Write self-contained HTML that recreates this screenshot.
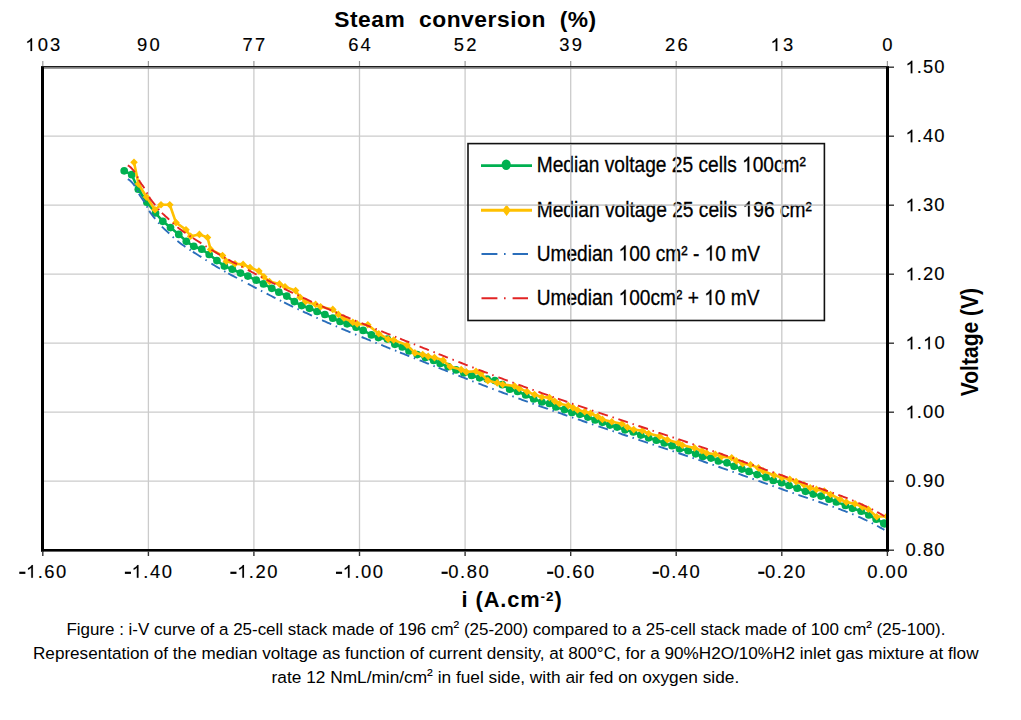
<!DOCTYPE html>
<html><head><meta charset="utf-8"><style>
html,body{margin:0;padding:0;background:#fff;}
svg{display:block;}
text{font-family:"Liberation Sans",sans-serif;fill:#000;}
.t{stroke:#000;stroke-width:0.15;}
.t2{stroke:#000;stroke-width:0.3;}
.h1{fill-opacity:0;stroke-opacity:0;}
.o1t{stroke:#000;stroke-width:16.7;}
.o1l{stroke:#000;stroke-width:27.9;}
.g{stroke:#cbcbcb;stroke-width:1.3;}
</style></head><body>
<svg width="1021" height="720" viewBox="0 0 1021 720">
<rect width="1021" height="720" fill="#fff"/>
<line x1="148.4" y1="68" x2="148.4" y2="549" class="g"/>
<line x1="253.9" y1="68" x2="253.9" y2="549" class="g"/>
<line x1="359.5" y1="68" x2="359.5" y2="549" class="g"/>
<line x1="465.1" y1="68" x2="465.1" y2="549" class="g"/>
<line x1="570.7" y1="68" x2="570.7" y2="549" class="g"/>
<line x1="676.2" y1="68" x2="676.2" y2="549" class="g"/>
<line x1="781.8" y1="68" x2="781.8" y2="549" class="g"/>
<line x1="44" y1="136.2" x2="886" y2="136.2" class="g"/>
<line x1="44" y1="205.2" x2="886" y2="205.2" class="g"/>
<line x1="44" y1="274.2" x2="886" y2="274.2" class="g"/>
<line x1="44" y1="343.2" x2="886" y2="343.2" class="g"/>
<line x1="44" y1="412.2" x2="886" y2="412.2" class="g"/>
<line x1="44" y1="481.2" x2="886" y2="481.2" class="g"/>
<rect x="468" y="143.6" width="356.4" height="176.9" fill="none" stroke="#111" stroke-width="1.6"/>
<clipPath id="pc"><rect x="44" y="68" width="842.5" height="481"/></clipPath>
<g clip-path="url(#pc)">
<polyline points="124.20,170.80 131.70,174.70 138.30,189.20 146.90,202.23 155.50,213.00 162.80,221.30 170.50,227.60 178.80,234.40 186.30,241.30 193.80,246.30 201.75,249.25 209.20,254.50 216.85,260.55 224.35,266.15 232.30,269.25 240.50,273.05 247.95,276.05 256.20,280.23 263.53,283.87 271.75,288.30 278.95,292.20 286.75,296.15 294.35,301.65 301.70,305.60 309.50,308.30 317.10,311.55 324.95,314.50 332.75,318.20 340.15,321.45 347.10,323.80 356.10,327.20 363.20,330.40 371.40,334.90 378.40,337.60 387.40,339.10 394.90,344.30 402.30,347.00 409.00,351.00 417.20,354.57 425.40,357.60 433.70,360.40 440.20,363.40 448.08,366.71 455.95,369.87 463.82,372.81 471.70,375.50 479.60,377.80 487.25,379.11 494.90,380.60 502.30,384.72 509.70,389.20 517.60,391.50 525.67,394.97 533.73,398.97 541.80,402.00 549.40,403.50 555.90,407.00 564.50,409.65 571.85,412.35 579.80,414.30 587.85,417.05 595.15,420.00 602.45,422.30 609.90,425.15 617.15,427.15 625.05,429.80 633.30,432.00 640.80,435.10 648.60,437.80 656.40,440.20 664.30,442.90 672.10,445.70 679.60,448.75 688.20,450.70 695.70,453.80 702.70,456.60 711.00,458.10 718.40,460.90 727.00,462.80 734.10,466.30 741.90,469.10 749.00,471.40 757.20,474.60 765.90,477.20 773.30,480.40 781.60,482.70 789.00,485.50 797.20,488.20 805.50,491.30 813.30,494.10 821.10,496.10 829.00,499.20 836.40,501.90 845.40,505.40 852.50,508.30 861.25,511.25 868.75,515.00 876.25,519.20 883.75,523.30" fill="none" stroke="#00b050" stroke-width="2.6" stroke-linejoin="round"/>
</g>
<g fill="#00b050"><circle cx="124.2" cy="170.8" r="3.85"/><circle cx="131.7" cy="174.7" r="3.85"/><circle cx="138.3" cy="189.2" r="3.85"/><circle cx="146.9" cy="202.2" r="3.85"/><circle cx="155.5" cy="213.0" r="3.85"/><circle cx="162.8" cy="221.3" r="3.85"/><circle cx="170.5" cy="227.6" r="3.85"/><circle cx="178.8" cy="234.4" r="3.85"/><circle cx="186.3" cy="241.3" r="3.85"/><circle cx="193.8" cy="246.3" r="3.85"/><circle cx="201.8" cy="249.2" r="3.85"/><circle cx="209.2" cy="254.5" r="3.85"/><circle cx="216.9" cy="260.6" r="3.85"/><circle cx="224.4" cy="266.1" r="3.85"/><circle cx="232.3" cy="269.2" r="3.85"/><circle cx="240.5" cy="273.1" r="3.85"/><circle cx="247.9" cy="276.1" r="3.85"/><circle cx="256.2" cy="280.2" r="3.85"/><circle cx="263.5" cy="283.9" r="3.85"/><circle cx="271.8" cy="288.3" r="3.85"/><circle cx="278.9" cy="292.2" r="3.85"/><circle cx="286.8" cy="296.1" r="3.85"/><circle cx="294.4" cy="301.6" r="3.85"/><circle cx="301.7" cy="305.6" r="3.85"/><circle cx="309.5" cy="308.3" r="3.85"/><circle cx="317.1" cy="311.5" r="3.85"/><circle cx="324.9" cy="314.5" r="3.85"/><circle cx="332.8" cy="318.2" r="3.85"/><circle cx="340.1" cy="321.4" r="3.85"/><circle cx="347.1" cy="323.8" r="3.85"/><circle cx="356.1" cy="327.2" r="3.85"/><circle cx="363.2" cy="330.4" r="3.85"/><circle cx="371.4" cy="334.9" r="3.85"/><circle cx="378.4" cy="337.6" r="3.85"/><circle cx="387.4" cy="339.1" r="3.85"/><circle cx="394.9" cy="344.3" r="3.85"/><circle cx="402.3" cy="347.0" r="3.85"/><circle cx="409.0" cy="351.0" r="3.85"/><circle cx="417.2" cy="354.6" r="3.85"/><circle cx="425.4" cy="357.6" r="3.85"/><circle cx="433.7" cy="360.4" r="3.85"/><circle cx="440.2" cy="363.4" r="3.85"/><circle cx="448.1" cy="366.7" r="3.85"/><circle cx="456.0" cy="369.9" r="3.85"/><circle cx="463.8" cy="372.8" r="3.85"/><circle cx="471.7" cy="375.5" r="3.85"/><circle cx="479.6" cy="377.8" r="3.85"/><circle cx="487.2" cy="379.1" r="3.85"/><circle cx="494.9" cy="380.6" r="3.85"/><circle cx="502.3" cy="384.7" r="3.85"/><circle cx="509.7" cy="389.2" r="3.85"/><circle cx="517.6" cy="391.5" r="3.85"/><circle cx="525.7" cy="395.0" r="3.85"/><circle cx="533.7" cy="399.0" r="3.85"/><circle cx="541.8" cy="402.0" r="3.85"/><circle cx="549.4" cy="403.5" r="3.85"/><circle cx="555.9" cy="407.0" r="3.85"/><circle cx="564.5" cy="409.6" r="3.85"/><circle cx="571.9" cy="412.4" r="3.85"/><circle cx="579.8" cy="414.3" r="3.85"/><circle cx="587.9" cy="417.1" r="3.85"/><circle cx="595.1" cy="420.0" r="3.85"/><circle cx="602.5" cy="422.3" r="3.85"/><circle cx="609.9" cy="425.1" r="3.85"/><circle cx="617.1" cy="427.1" r="3.85"/><circle cx="625.0" cy="429.8" r="3.85"/><circle cx="633.3" cy="432.0" r="3.85"/><circle cx="640.8" cy="435.1" r="3.85"/><circle cx="648.6" cy="437.8" r="3.85"/><circle cx="656.4" cy="440.2" r="3.85"/><circle cx="664.3" cy="442.9" r="3.85"/><circle cx="672.1" cy="445.7" r="3.85"/><circle cx="679.6" cy="448.8" r="3.85"/><circle cx="688.2" cy="450.7" r="3.85"/><circle cx="695.7" cy="453.8" r="3.85"/><circle cx="702.7" cy="456.6" r="3.85"/><circle cx="711.0" cy="458.1" r="3.85"/><circle cx="718.4" cy="460.9" r="3.85"/><circle cx="727.0" cy="462.8" r="3.85"/><circle cx="734.1" cy="466.3" r="3.85"/><circle cx="741.9" cy="469.1" r="3.85"/><circle cx="749.0" cy="471.4" r="3.85"/><circle cx="757.2" cy="474.6" r="3.85"/><circle cx="765.9" cy="477.2" r="3.85"/><circle cx="773.3" cy="480.4" r="3.85"/><circle cx="781.6" cy="482.7" r="3.85"/><circle cx="789.0" cy="485.5" r="3.85"/><circle cx="797.2" cy="488.2" r="3.85"/><circle cx="805.5" cy="491.3" r="3.85"/><circle cx="813.3" cy="494.1" r="3.85"/><circle cx="821.1" cy="496.1" r="3.85"/><circle cx="829.0" cy="499.2" r="3.85"/><circle cx="836.4" cy="501.9" r="3.85"/><circle cx="845.4" cy="505.4" r="3.85"/><circle cx="852.5" cy="508.3" r="3.85"/><circle cx="861.2" cy="511.2" r="3.85"/><circle cx="868.8" cy="515.0" r="3.85"/><circle cx="876.2" cy="519.2" r="3.85"/><circle cx="883.8" cy="523.3" r="3.85"/><circle cx="884.6" cy="523.6" r="4.1"/></g>
<g clip-path="url(#pc)">
<polyline points="134.00,162.30 138.50,184.00 146.50,197.00 155.00,209.80 161.00,204.80 169.80,204.80 176.00,222.60 186.00,229.80 190.60,236.30 199.40,234.40 207.50,237.50 210.60,249.40 222.50,255.60 226.30,261.30 235.00,263.80 243.10,264.40 250.00,267.50 258.90,271.10 263.90,276.70 269.40,281.50 279.40,283.90 285.00,286.70 295.60,290.60 300.00,297.20 305.60,301.50 315.60,304.40 320.60,306.70 332.80,309.40 338.30,314.40 343.90,318.00 352.80,322.20 357.20,323.90 367.80,324.70 378.80,333.70 388.20,339.20 393.70,340.00 407.00,345.10 414.90,352.90 422.70,354.50 428.20,356.40 434.50,357.60 443.10,360.20 450.20,366.80 461.20,369.60 466.30,371.90 476.00,371.20 480.80,373.50 487.80,380.60 497.20,382.90 502.70,384.50 514.50,386.00 519.20,388.40 527.00,391.60 534.50,394.60 541.80,397.00 549.40,397.60 554.70,401.20 559.40,403.80 568.20,405.60 572.90,407.60 577.60,410.00 584.70,411.80 590.60,413.20 597.60,416.50 602.40,419.40 611.80,421.80 621.90,423.70 627.40,427.20 633.70,429.60 642.30,430.80 648.60,433.50 659.60,436.30 667.40,439.80 678.40,442.90 682.40,445.20 694.50,447.90 701.90,450.70 706.60,453.00 715.30,454.20 721.50,456.60 731.70,457.70 736.40,460.90 742.70,463.60 750.50,464.80 758.40,467.90 763.10,471.00 774.10,475.30 781.90,477.60 789.80,479.20 796.10,481.60 803.90,484.70 810.20,487.80 816.40,489.40 824.30,491.00 830.50,494.50 840.00,499.20 846.25,502.10 855.00,503.75 862.50,507.00 868.30,509.20 876.70,516.70 886.70,516.30" fill="none" stroke="#ffc000" stroke-width="2.6" stroke-linejoin="round"/>
<path fill="#ffc000" d="M134.0 158.5L137.8 162.3L134.0 166.1L130.2 162.3ZM138.5 180.2L142.3 184.0L138.5 187.8L134.7 184.0ZM146.5 193.2L150.3 197.0L146.5 200.8L142.7 197.0ZM155.0 206.0L158.8 209.8L155.0 213.6L151.2 209.8ZM161.0 201.0L164.8 204.8L161.0 208.6L157.2 204.8ZM169.8 201.0L173.6 204.8L169.8 208.6L166.0 204.8ZM176.0 218.8L179.8 222.6L176.0 226.4L172.2 222.6ZM186.0 226.0L189.8 229.8L186.0 233.6L182.2 229.8ZM190.6 232.5L194.4 236.3L190.6 240.1L186.8 236.3ZM199.4 230.6L203.2 234.4L199.4 238.2L195.6 234.4ZM207.5 233.7L211.3 237.5L207.5 241.3L203.7 237.5ZM210.6 245.6L214.4 249.4L210.6 253.2L206.8 249.4ZM222.5 251.8L226.3 255.6L222.5 259.4L218.7 255.6ZM226.3 257.5L230.1 261.3L226.3 265.1L222.5 261.3ZM235.0 260.0L238.8 263.8L235.0 267.6L231.2 263.8ZM243.1 260.6L246.9 264.4L243.1 268.2L239.3 264.4ZM250.0 263.7L253.8 267.5L250.0 271.3L246.2 267.5ZM258.9 267.3L262.7 271.1L258.9 274.9L255.1 271.1ZM263.9 272.9L267.7 276.7L263.9 280.5L260.1 276.7ZM269.4 277.7L273.2 281.5L269.4 285.3L265.6 281.5ZM279.4 280.1L283.2 283.9L279.4 287.7L275.6 283.9ZM285.0 282.9L288.8 286.7L285.0 290.5L281.2 286.7ZM295.6 286.8L299.4 290.6L295.6 294.4L291.8 290.6ZM300.0 293.4L303.8 297.2L300.0 301.0L296.2 297.2ZM305.6 297.7L309.4 301.5L305.6 305.3L301.8 301.5ZM315.6 300.6L319.4 304.4L315.6 308.2L311.8 304.4ZM320.6 302.9L324.4 306.7L320.6 310.5L316.8 306.7ZM332.8 305.6L336.6 309.4L332.8 313.2L329.0 309.4ZM338.3 310.6L342.1 314.4L338.3 318.2L334.5 314.4ZM343.9 314.2L347.7 318.0L343.9 321.8L340.1 318.0ZM352.8 318.4L356.6 322.2L352.8 326.0L349.0 322.2ZM357.2 320.1L361.0 323.9L357.2 327.7L353.4 323.9ZM367.8 320.9L371.6 324.7L367.8 328.5L364.0 324.7ZM378.8 329.9L382.6 333.7L378.8 337.5L375.0 333.7ZM388.2 335.4L392.0 339.2L388.2 343.0L384.4 339.2ZM393.7 336.2L397.5 340.0L393.7 343.8L389.9 340.0ZM407.0 341.3L410.8 345.1L407.0 348.9L403.2 345.1ZM414.9 349.1L418.7 352.9L414.9 356.7L411.1 352.9ZM422.7 350.7L426.5 354.5L422.7 358.3L418.9 354.5ZM428.2 352.6L432.0 356.4L428.2 360.2L424.4 356.4ZM434.5 353.8L438.3 357.6L434.5 361.4L430.7 357.6ZM443.1 356.4L446.9 360.2L443.1 364.0L439.3 360.2ZM450.2 363.0L454.0 366.8L450.2 370.6L446.4 366.8ZM461.2 365.8L465.0 369.6L461.2 373.4L457.4 369.6ZM466.3 368.1L470.1 371.9L466.3 375.7L462.5 371.9ZM476.0 367.4L479.8 371.2L476.0 375.0L472.2 371.2ZM480.8 369.7L484.6 373.5L480.8 377.3L477.0 373.5ZM487.8 376.8L491.6 380.6L487.8 384.4L484.0 380.6ZM497.2 379.1L501.0 382.9L497.2 386.7L493.4 382.9ZM502.7 380.7L506.5 384.5L502.7 388.3L498.9 384.5ZM514.5 382.2L518.3 386.0L514.5 389.8L510.7 386.0ZM519.2 384.6L523.0 388.4L519.2 392.2L515.4 388.4ZM527.0 387.8L530.8 391.6L527.0 395.4L523.2 391.6ZM534.5 390.8L538.3 394.6L534.5 398.4L530.7 394.6ZM541.8 393.2L545.6 397.0L541.8 400.8L538.0 397.0ZM549.4 393.8L553.2 397.6L549.4 401.4L545.6 397.6ZM554.7 397.4L558.5 401.2L554.7 405.0L550.9 401.2ZM559.4 400.0L563.2 403.8L559.4 407.6L555.6 403.8ZM568.2 401.8L572.0 405.6L568.2 409.4L564.4 405.6ZM572.9 403.8L576.7 407.6L572.9 411.4L569.1 407.6ZM577.6 406.2L581.4 410.0L577.6 413.8L573.8 410.0ZM584.7 408.0L588.5 411.8L584.7 415.6L580.9 411.8ZM590.6 409.4L594.4 413.2L590.6 417.0L586.8 413.2ZM597.6 412.7L601.4 416.5L597.6 420.3L593.8 416.5ZM602.4 415.6L606.2 419.4L602.4 423.2L598.6 419.4ZM611.8 418.0L615.6 421.8L611.8 425.6L608.0 421.8ZM621.9 419.9L625.7 423.7L621.9 427.5L618.1 423.7ZM627.4 423.4L631.2 427.2L627.4 431.0L623.6 427.2ZM633.7 425.8L637.5 429.6L633.7 433.4L629.9 429.6ZM642.3 427.0L646.1 430.8L642.3 434.6L638.5 430.8ZM648.6 429.7L652.4 433.5L648.6 437.3L644.8 433.5ZM659.6 432.5L663.4 436.3L659.6 440.1L655.8 436.3ZM667.4 436.0L671.2 439.8L667.4 443.6L663.6 439.8ZM678.4 439.1L682.2 442.9L678.4 446.7L674.6 442.9ZM682.4 441.4L686.2 445.2L682.4 449.0L678.6 445.2ZM694.5 444.1L698.3 447.9L694.5 451.7L690.7 447.9ZM701.9 446.9L705.7 450.7L701.9 454.5L698.1 450.7ZM706.6 449.2L710.4 453.0L706.6 456.8L702.8 453.0ZM715.3 450.4L719.1 454.2L715.3 458.0L711.5 454.2ZM721.5 452.8L725.3 456.6L721.5 460.4L717.7 456.6ZM731.7 453.9L735.5 457.7L731.7 461.5L727.9 457.7ZM736.4 457.1L740.2 460.9L736.4 464.7L732.6 460.9ZM742.7 459.8L746.5 463.6L742.7 467.4L738.9 463.6ZM750.5 461.0L754.3 464.8L750.5 468.6L746.7 464.8ZM758.4 464.1L762.2 467.9L758.4 471.7L754.6 467.9ZM763.1 467.2L766.9 471.0L763.1 474.8L759.3 471.0ZM774.1 471.5L777.9 475.3L774.1 479.1L770.3 475.3ZM781.9 473.8L785.7 477.6L781.9 481.4L778.1 477.6ZM789.8 475.4L793.6 479.2L789.8 483.0L786.0 479.2ZM796.1 477.8L799.9 481.6L796.1 485.4L792.3 481.6ZM803.9 480.9L807.7 484.7L803.9 488.5L800.1 484.7ZM810.2 484.0L814.0 487.8L810.2 491.6L806.4 487.8ZM816.4 485.6L820.2 489.4L816.4 493.2L812.6 489.4ZM824.3 487.2L828.1 491.0L824.3 494.8L820.5 491.0ZM830.5 490.7L834.3 494.5L830.5 498.3L826.7 494.5ZM840.0 495.4L843.8 499.2L840.0 503.0L836.2 499.2ZM846.2 498.3L850.0 502.1L846.2 505.9L842.5 502.1ZM855.0 499.9L858.8 503.8L855.0 507.6L851.2 503.8ZM862.5 503.2L866.3 507.0L862.5 510.8L858.7 507.0ZM868.3 505.4L872.1 509.2L868.3 513.0L864.5 509.2ZM876.7 512.9L880.5 516.7L876.7 520.5L872.9 516.7ZM886.7 512.5L890.5 516.3L886.7 520.1L882.9 516.3Z"/>
<path d="M127.80 179.15L129.32 180.02L130.83 181.31L132.35 182.92L133.86 184.74L134.84 186.11M137.23 190.32L137.87 191.68M138.90 193.70L139.93 195.54L141.45 197.78L142.96 199.90L144.37 202.06M146.75 206.28L147.46 207.60M149.20 210.88L150.54 212.93L152.06 214.96L153.58 216.85L155.09 218.70L155.22 218.85M158.29 222.60L159.27 223.74M161.90 226.61L162.67 227.40L164.19 228.85L165.71 230.24L167.22 231.62L168.74 233.02L169.19 233.45M172.69 236.81L173.29 237.37L173.79 237.83M177.40 240.97L177.84 241.33L179.35 242.51L180.87 243.65L182.38 244.75L183.90 245.83L185.42 246.88L185.45 246.90M189.49 249.59L189.97 249.89L190.75 250.40M192.90 251.80L193.00 251.86L194.51 252.83L196.03 253.79L197.55 254.75L199.06 255.71L200.58 256.67L201.34 257.16M205.43 259.76L206.64 260.53L206.70 260.57M211.40 263.53L212.71 264.35L214.23 265.28L215.74 266.21L217.26 267.13L218.77 268.03L219.95 268.72M224.16 271.12L224.84 271.50L225.48 271.85M228.20 273.34L229.39 273.99L230.90 274.80L232.42 275.61L233.94 276.42L235.45 277.22L236.97 278.02L237.02 278.05M241.31 280.32L241.52 280.43L242.64 281.02M247.80 283.75L249.10 284.43L250.61 285.23L252.13 286.03L253.65 286.83L255.16 287.62L256.65 288.40M260.95 290.65L261.23 290.79L262.28 291.34M266.60 293.58L267.29 293.93L268.81 294.72L270.33 295.49L271.84 296.27L273.36 297.04L274.87 297.81L275.50 298.13M279.84 300.31L280.94 300.86L281.18 300.98M284.10 302.43L285.49 303.12L287.00 303.86L288.52 304.60L290.04 305.34L291.55 306.07L293.07 306.80L293.09 306.81M297.47 308.90L297.62 308.97L298.82 309.54M302.90 311.46L303.68 311.82L305.20 312.53L306.72 313.23L308.23 313.93L309.75 314.62L311.26 315.32L311.98 315.64M316.40 317.64L317.33 318.06L317.77 318.26M322.10 320.19L323.39 320.76L324.91 321.43L326.43 322.10L327.94 322.76L329.46 323.43L330.98 324.09L331.26 324.21M335.71 326.13L337.04 326.70L337.09 326.72M341.30 328.52L341.59 328.65L343.11 329.29L344.62 329.93L346.14 330.57L347.65 331.21L349.17 331.84L350.51 332.41M354.99 334.27L355.23 334.37L356.38 334.85M361.60 337.00L362.82 337.50L364.33 338.12L365.85 338.74L367.36 339.36L368.88 339.98L370.40 340.59L370.86 340.78M375.35 342.60L376.46 343.05L376.74 343.16M381.20 344.96L382.53 345.49L384.04 346.10L385.56 346.71L387.08 347.31L388.59 347.92L390.11 348.53L390.48 348.68M394.99 350.47L396.17 350.95L396.38 351.03M400.00 352.47L400.72 352.76L402.24 353.36L403.75 353.97L405.27 354.57L406.79 355.17L408.30 355.78L409.29 356.17M413.80 357.96L414.37 358.19L415.19 358.52M419.60 360.27L420.43 360.61L421.95 361.21L423.47 361.81L424.98 362.42L426.50 363.02L428.01 363.62L428.89 363.97M433.40 365.76L434.08 366.03L434.79 366.32M438.60 367.83L438.63 367.84L440.14 368.44L441.66 369.04L443.18 369.64L444.69 370.24L446.21 370.84L447.73 371.44L447.90 371.51M452.41 373.28L453.79 373.83L453.81 373.83M458.40 375.64L459.85 376.21L461.37 376.80L462.89 377.40L464.40 377.99L465.92 378.58L467.44 379.17L467.71 379.28M472.23 381.04L473.50 381.53L473.63 381.58M478.40 383.42L479.57 383.87L481.08 384.45L482.60 385.04L484.11 385.62L485.63 386.20L487.15 386.78L487.74 387.00M492.27 388.73L493.21 389.08L493.67 389.26M498.40 391.04L499.28 391.37L500.79 391.94L502.31 392.51L503.83 393.07L505.34 393.64L506.86 394.20L507.77 394.54M512.32 396.22L512.92 396.45L513.72 396.74M518.40 398.45L518.99 398.67L520.50 399.22L522.02 399.77L523.54 400.32L525.05 400.87L526.57 401.41L527.80 401.86M532.37 403.50L532.63 403.59L533.78 404.00M538.40 405.65L538.70 405.75L540.22 406.29L541.73 406.83L543.25 407.36L544.76 407.90L546.28 408.43L547.80 408.96L547.83 408.98M552.41 410.58L553.82 411.07M557.90 412.49L558.41 412.67L559.93 413.19L561.44 413.72L562.96 414.24L564.47 414.76L565.99 415.29L567.35 415.75M571.94 417.33L572.06 417.37L573.36 417.81M577.90 419.36L578.12 419.44L579.64 419.96L581.15 420.47L582.67 420.99L584.19 421.50L585.70 422.02L587.22 422.53L587.37 422.58M591.96 424.13L593.28 424.58L593.38 424.61M598.40 426.30L599.35 426.62L600.86 427.13L602.38 427.64L603.90 428.15L605.41 428.66L606.93 429.16L607.88 429.48M612.48 431.02L612.99 431.19L613.90 431.50M618.40 433.00L619.06 433.22L620.58 433.72L622.09 434.23L623.61 434.74L625.12 435.24L626.64 435.75L627.89 436.16M632.49 437.69L632.71 437.77L633.91 438.17M638.40 439.66L638.77 439.79L640.29 440.29L641.80 440.80L643.32 441.30L644.84 441.81L646.35 442.31L647.87 442.82L647.89 442.82M652.49 444.36L653.91 444.83M658.40 446.33L658.48 446.36L660.00 446.87L661.51 447.37L663.03 447.88L664.55 448.39L666.06 448.90L667.58 449.41L667.88 449.51M672.48 451.05L673.64 451.44L673.90 451.53M678.40 453.04L679.71 453.49L681.22 454.00L682.74 454.51L684.26 455.02L685.77 455.54L687.29 456.05L687.87 456.25M692.47 457.81L693.35 458.11L693.88 458.29M698.40 459.83L699.42 460.18L700.94 460.70L702.45 461.22L703.97 461.74L705.48 462.26L707.00 462.79L707.86 463.08M712.44 464.67L713.07 464.88L713.86 465.16M718.40 466.74L719.13 466.99L720.65 467.52L722.16 468.05L723.68 468.58L725.20 469.12L726.71 469.65L727.84 470.04M732.41 471.66L732.78 471.78L733.83 472.16M738.40 473.77L738.84 473.93L740.36 474.47L741.87 475.00L743.39 475.54L744.91 476.08L746.42 476.62L747.82 477.12M752.39 478.74L752.49 478.77L753.81 479.24M758.40 480.87L758.55 480.93L760.07 481.47L761.59 482.01L763.10 482.54L764.62 483.08L766.13 483.62L767.65 484.16L767.82 484.22M772.40 485.84L773.72 486.30L773.81 486.34M778.40 487.95L779.78 488.44L781.30 488.97L782.81 489.50L784.33 490.03L785.84 490.57L787.36 491.10L787.84 491.26M792.42 492.86L793.43 493.20L793.83 493.35M798.40 494.92L799.49 495.30L801.01 495.82L802.52 496.34L804.04 496.86L805.56 497.37L807.07 497.89L807.86 498.16M812.46 499.71L813.14 499.94L813.88 500.19M818.40 501.72L819.20 501.99L820.72 502.50L822.23 503.02L823.75 503.54L825.27 504.06L826.78 504.58L827.86 504.95M832.44 506.56L832.85 506.70L833.85 507.06M838.30 508.67L838.91 508.90L840.43 509.46L841.95 510.03L843.46 510.60L844.98 511.19L846.49 511.77L847.65 512.23M852.14 514.04L852.56 514.21L853.53 514.62M858.30 516.66L858.62 516.80L860.14 517.47L861.66 518.15L863.17 518.84L864.69 519.55L866.21 520.26L867.39 520.83M871.73 522.99L872.27 523.26L873.07 523.67M877.10 525.80L878.34 526.47L879.85 527.31L881.37 528.17L882.88 529.04L884.40 529.93" fill="none" stroke="#2a6ebb" stroke-width="1.9"/>
<path d="M127.80 165.35L129.32 166.22L130.83 167.51L132.35 169.12L133.86 170.94L134.84 172.31M137.23 176.52L137.87 177.88M138.90 179.90L139.93 181.74L141.45 183.98L142.96 186.10L144.37 188.26M146.75 192.48L147.46 193.80M149.20 197.08L150.54 199.13L152.06 201.16L153.58 203.05L155.09 204.90L155.22 205.05M158.29 208.80L159.27 209.94M161.90 212.81L162.67 213.60L164.19 215.05L165.71 216.44L167.22 217.82L168.74 219.22L169.19 219.65M172.69 223.01L173.29 223.57L173.79 224.03M177.40 227.17L177.84 227.53L179.35 228.71L180.87 229.85L182.38 230.95L183.90 232.03L185.42 233.08L185.45 233.10M189.49 235.79L189.97 236.09L190.75 236.60M192.90 238.00L193.00 238.06L194.51 239.03L196.03 239.99L197.55 240.95L199.06 241.91L200.58 242.87L201.34 243.36M205.43 245.96L206.64 246.73L206.70 246.77M211.40 249.73L212.71 250.55L214.23 251.48L215.74 252.41L217.26 253.33L218.77 254.23L219.95 254.92M224.16 257.32L224.84 257.70L225.48 258.05M228.20 259.54L229.39 260.19L230.90 261.00L232.42 261.81L233.94 262.62L235.45 263.42L236.97 264.22L237.02 264.25M241.31 266.52L241.52 266.63L242.64 267.22M247.80 269.95L249.10 270.63L250.61 271.43L252.13 272.23L253.65 273.03L255.16 273.82L256.65 274.60M260.95 276.85L261.23 276.99L262.28 277.54M266.60 279.78L267.29 280.13L268.81 280.92L270.33 281.69L271.84 282.47L273.36 283.24L274.87 284.01L275.50 284.33M279.84 286.51L280.94 287.06L281.18 287.18M284.10 288.63L285.49 289.32L287.00 290.06L288.52 290.80L290.04 291.54L291.55 292.27L293.07 293.00L293.09 293.01M297.47 295.10L297.62 295.17L298.82 295.74M302.90 297.66L303.68 298.02L305.20 298.73L306.72 299.43L308.23 300.13L309.75 300.82L311.26 301.52L311.98 301.84M316.40 303.84L317.33 304.26L317.77 304.46M322.10 306.39L323.39 306.96L324.91 307.63L326.43 308.30L327.94 308.96L329.46 309.63L330.98 310.29L331.26 310.41M335.71 312.33L337.04 312.90L337.09 312.92M341.30 314.72L341.59 314.85L343.11 315.49L344.62 316.13L346.14 316.77L347.65 317.41L349.17 318.04L350.51 318.61M354.99 320.47L355.23 320.57L356.38 321.05M361.60 323.20L362.82 323.70L364.33 324.32L365.85 324.94L367.36 325.56L368.88 326.18L370.40 326.79L370.86 326.98M375.35 328.80L376.46 329.25L376.74 329.36M381.20 331.16L382.53 331.69L384.04 332.30L385.56 332.91L387.08 333.51L388.59 334.12L390.11 334.73L390.48 334.88M394.99 336.67L396.17 337.15L396.38 337.23M400.00 338.67L400.72 338.96L402.24 339.56L403.75 340.17L405.27 340.77L406.79 341.37L408.30 341.98L409.29 342.37M413.80 344.16L414.37 344.39L415.19 344.72M419.60 346.47L420.43 346.81L421.95 347.41L423.47 348.01L424.98 348.62L426.50 349.22L428.01 349.82L428.89 350.17M433.40 351.96L434.08 352.23L434.79 352.52M438.60 354.03L438.63 354.04L440.14 354.64L441.66 355.24L443.18 355.84L444.69 356.44L446.21 357.04L447.73 357.64L447.90 357.71M452.41 359.48L453.79 360.03L453.81 360.03M458.40 361.84L459.85 362.41L461.37 363.00L462.89 363.60L464.40 364.19L465.92 364.78L467.44 365.37L467.71 365.48M472.23 367.24L473.50 367.73L473.63 367.78M478.40 369.62L479.57 370.07L481.08 370.65L482.60 371.24L484.11 371.82L485.63 372.40L487.15 372.98L487.74 373.20M492.27 374.93L493.21 375.28L493.67 375.46M498.40 377.24L499.28 377.57L500.79 378.14L502.31 378.71L503.83 379.27L505.34 379.84L506.86 380.40L507.77 380.74M512.32 382.42L512.92 382.65L513.72 382.94M518.40 384.65L518.99 384.87L520.50 385.42L522.02 385.97L523.54 386.52L525.05 387.07L526.57 387.61L527.80 388.06M532.37 389.70L532.63 389.79L533.78 390.20M538.40 391.85L538.70 391.95L540.22 392.49L541.73 393.03L543.25 393.56L544.76 394.10L546.28 394.63L547.80 395.16L547.83 395.18M552.41 396.78L553.82 397.27M557.90 398.69L558.41 398.87L559.93 399.39L561.44 399.92L562.96 400.44L564.47 400.96L565.99 401.49L567.35 401.95M571.94 403.53L572.06 403.57L573.36 404.01M577.90 405.56L578.12 405.64L579.64 406.16L581.15 406.67L582.67 407.19L584.19 407.70L585.70 408.22L587.22 408.73L587.37 408.78M591.96 410.33L593.28 410.78L593.38 410.81M598.40 412.50L599.35 412.82L600.86 413.33L602.38 413.84L603.90 414.35L605.41 414.86L606.93 415.36L607.88 415.68M612.48 417.22L612.99 417.39L613.90 417.70M618.40 419.20L619.06 419.42L620.58 419.92L622.09 420.43L623.61 420.94L625.12 421.44L626.64 421.95L627.89 422.36M632.49 423.89L632.71 423.97L633.91 424.37M638.40 425.86L638.77 425.99L640.29 426.49L641.80 427.00L643.32 427.50L644.84 428.01L646.35 428.51L647.87 429.02L647.89 429.02M652.49 430.56L653.91 431.03M658.40 432.53L658.48 432.56L660.00 433.07L661.51 433.57L663.03 434.08L664.55 434.59L666.06 435.10L667.58 435.61L667.88 435.71M672.48 437.25L673.64 437.64L673.90 437.73M678.40 439.24L679.71 439.69L681.22 440.20L682.74 440.71L684.26 441.22L685.77 441.74L687.29 442.25L687.87 442.45M692.47 444.01L693.35 444.31L693.88 444.49M698.40 446.03L699.42 446.38L700.94 446.90L702.45 447.42L703.97 447.94L705.48 448.46L707.00 448.99L707.86 449.28M712.44 450.87L713.07 451.08L713.86 451.36M718.40 452.94L719.13 453.19L720.65 453.72L722.16 454.25L723.68 454.78L725.20 455.32L726.71 455.85L727.84 456.24M732.41 457.86L732.78 457.98L733.83 458.36M738.40 459.97L738.84 460.13L740.36 460.67L741.87 461.20L743.39 461.74L744.91 462.28L746.42 462.82L747.82 463.32M752.39 464.94L752.49 464.97L753.81 465.44M758.40 467.07L758.55 467.13L760.07 467.67L761.59 468.21L763.10 468.74L764.62 469.28L766.13 469.82L767.65 470.36L767.82 470.42M772.40 472.04L773.72 472.50L773.81 472.54M778.40 474.15L779.78 474.64L781.30 475.17L782.81 475.70L784.33 476.23L785.84 476.77L787.36 477.30L787.84 477.46M792.42 479.06L793.43 479.40L793.83 479.55M798.40 481.12L799.49 481.50L801.01 482.02L802.52 482.54L804.04 483.06L805.56 483.57L807.07 484.09L807.86 484.36M812.46 485.91L813.14 486.14L813.88 486.39M818.40 487.92L819.20 488.19L820.72 488.70L822.23 489.22L823.75 489.74L825.27 490.26L826.78 490.78L827.86 491.15M832.44 492.76L832.85 492.90L833.85 493.26M838.30 494.87L838.91 495.10L840.43 495.66L841.95 496.23L843.46 496.80L844.98 497.39L846.49 497.97L847.65 498.43M852.14 500.24L852.56 500.41L853.53 500.82M858.30 502.86L858.62 503.00L860.14 503.67L861.66 504.35L863.17 505.04L864.69 505.75L866.21 506.46L867.39 507.03M871.73 509.19L872.27 509.46L873.07 509.87M877.10 512.00L878.34 512.67L879.85 513.51L881.37 514.37L882.88 515.24L884.40 516.13" fill="none" stroke="#e22424" stroke-width="1.9"/>
</g>
<rect x="41" y="66" width="3" height="485.5" fill="#000"/>
<rect x="886" y="66" width="3" height="485.5" fill="#000"/>
<rect x="41" y="66" width="848" height="1.1" fill="#1c1c1c"/>
<rect x="44" y="67.1" width="842" height="1.6" fill="#727272"/>
<rect x="41" y="549" width="848" height="2.6" fill="#000"/>
<line x1="42.8" y1="61" x2="42.8" y2="66" stroke="#999" stroke-width="1.2"/>
<line x1="42.8" y1="551.5" x2="42.8" y2="556" stroke="#333" stroke-width="1.4"/>
<line x1="148.4" y1="61" x2="148.4" y2="66" stroke="#999" stroke-width="1.2"/>
<line x1="148.4" y1="551.5" x2="148.4" y2="556" stroke="#333" stroke-width="1.4"/>
<line x1="253.9" y1="61" x2="253.9" y2="66" stroke="#999" stroke-width="1.2"/>
<line x1="253.9" y1="551.5" x2="253.9" y2="556" stroke="#333" stroke-width="1.4"/>
<line x1="359.5" y1="61" x2="359.5" y2="66" stroke="#999" stroke-width="1.2"/>
<line x1="359.5" y1="551.5" x2="359.5" y2="556" stroke="#333" stroke-width="1.4"/>
<line x1="465.1" y1="61" x2="465.1" y2="66" stroke="#999" stroke-width="1.2"/>
<line x1="465.1" y1="551.5" x2="465.1" y2="556" stroke="#333" stroke-width="1.4"/>
<line x1="570.7" y1="61" x2="570.7" y2="66" stroke="#999" stroke-width="1.2"/>
<line x1="570.7" y1="551.5" x2="570.7" y2="556" stroke="#333" stroke-width="1.4"/>
<line x1="676.2" y1="61" x2="676.2" y2="66" stroke="#999" stroke-width="1.2"/>
<line x1="676.2" y1="551.5" x2="676.2" y2="556" stroke="#333" stroke-width="1.4"/>
<line x1="781.8" y1="61" x2="781.8" y2="66" stroke="#999" stroke-width="1.2"/>
<line x1="781.8" y1="551.5" x2="781.8" y2="556" stroke="#333" stroke-width="1.4"/>
<line x1="887.4" y1="61" x2="887.4" y2="66" stroke="#999" stroke-width="1.2"/>
<line x1="887.4" y1="551.5" x2="887.4" y2="556" stroke="#333" stroke-width="1.4"/>
<line x1="889" y1="67.2" x2="894" y2="67.2" stroke="#333" stroke-width="1.4"/>
<line x1="889" y1="136.2" x2="894" y2="136.2" stroke="#333" stroke-width="1.4"/>
<line x1="889" y1="205.2" x2="894" y2="205.2" stroke="#333" stroke-width="1.4"/>
<line x1="889" y1="274.2" x2="894" y2="274.2" stroke="#333" stroke-width="1.4"/>
<line x1="889" y1="343.2" x2="894" y2="343.2" stroke="#333" stroke-width="1.4"/>
<line x1="889" y1="412.2" x2="894" y2="412.2" stroke="#333" stroke-width="1.4"/>
<line x1="889" y1="481.2" x2="894" y2="481.2" stroke="#333" stroke-width="1.4"/>
<line x1="889" y1="550.2" x2="894" y2="550.2" stroke="#333" stroke-width="1.4"/>
<line x1="481" y1="165.6" x2="532" y2="165.6" stroke="#00b050" stroke-width="2.6"/>
<ellipse cx="506.2" cy="164.8" rx="4.6" ry="5.2" fill="#00b050"/>
<line x1="481" y1="210.3" x2="532" y2="210.3" stroke="#ffc000" stroke-width="3.1"/>
<path fill="#ffc000" d="M506.6 204.6L510.8 210.3L506.6 216.0L502.4 210.3Z"/>
<line x1="481.5" y1="254.1" x2="528" y2="254.1" stroke="#2a6ebb" stroke-width="2" stroke-dasharray="15.9 6.6 1.6 7"/>
<line x1="481.5" y1="298.3" x2="528" y2="298.3" stroke="#e22424" stroke-width="2" stroke-dasharray="15.9 6.6 1.6 7"/>
<text x="43.9" y="51.0" font-size="18.4" font-weight="normal" text-anchor="middle" letter-spacing="2.2" class="t"><tspan class="h1">1</tspan>03</text>
<text x="149.5" y="51.0" font-size="18.4" font-weight="normal" text-anchor="middle" letter-spacing="2.2" class="t">90</text>
<text x="255.0" y="51.0" font-size="18.4" font-weight="normal" text-anchor="middle" letter-spacing="2.2" class="t">77</text>
<text x="360.6" y="51.0" font-size="18.4" font-weight="normal" text-anchor="middle" letter-spacing="2.2" class="t">64</text>
<text x="466.2" y="51.0" font-size="18.4" font-weight="normal" text-anchor="middle" letter-spacing="2.2" class="t">52</text>
<text x="571.8" y="51.0" font-size="18.4" font-weight="normal" text-anchor="middle" letter-spacing="2.2" class="t">39</text>
<text x="677.4" y="51.0" font-size="18.4" font-weight="normal" text-anchor="middle" letter-spacing="2.2" class="t">26</text>
<text x="782.9" y="51.0" font-size="18.4" font-weight="normal" text-anchor="middle" letter-spacing="2.2" class="t"><tspan class="h1">1</tspan>3</text>
<text x="888.5" y="51.0" font-size="18.4" font-weight="normal" text-anchor="middle" letter-spacing="2.2" class="t">0</text>
<text x="43.1" y="577.7" font-size="18.4" font-weight="normal" text-anchor="middle" letter-spacing="1.5" class="t"><tspan class="h1">-</tspan><tspan class="h1">1</tspan>.60</text>
<text x="148.7" y="577.7" font-size="18.4" font-weight="normal" text-anchor="middle" letter-spacing="1.5" class="t"><tspan class="h1">-</tspan><tspan class="h1">1</tspan>.40</text>
<text x="254.2" y="577.7" font-size="18.4" font-weight="normal" text-anchor="middle" letter-spacing="1.5" class="t"><tspan class="h1">-</tspan><tspan class="h1">1</tspan>.20</text>
<text x="359.8" y="577.7" font-size="18.4" font-weight="normal" text-anchor="middle" letter-spacing="1.5" class="t"><tspan class="h1">-</tspan><tspan class="h1">1</tspan>.00</text>
<text x="465.4" y="577.7" font-size="18.4" font-weight="normal" text-anchor="middle" letter-spacing="1.5" class="t"><tspan class="h1">-</tspan>0.80</text>
<text x="571.0" y="577.7" font-size="18.4" font-weight="normal" text-anchor="middle" letter-spacing="1.5" class="t"><tspan class="h1">-</tspan>0.60</text>
<text x="676.5" y="577.7" font-size="18.4" font-weight="normal" text-anchor="middle" letter-spacing="1.5" class="t"><tspan class="h1">-</tspan>0.40</text>
<text x="782.1" y="577.7" font-size="18.4" font-weight="normal" text-anchor="middle" letter-spacing="1.5" class="t"><tspan class="h1">-</tspan>0.20</text>
<text x="888.1" y="577.7" font-size="18.4" font-weight="normal" text-anchor="middle" letter-spacing="1.5" class="t">0.00</text>
<text x="905.5" y="73.3" font-size="18.4" font-weight="normal" text-anchor="start" letter-spacing="1.1" class="t"><tspan class="h1">1</tspan>.50</text>
<text x="905.5" y="142.3" font-size="18.4" font-weight="normal" text-anchor="start" letter-spacing="1.1" class="t"><tspan class="h1">1</tspan>.40</text>
<text x="905.5" y="211.3" font-size="18.4" font-weight="normal" text-anchor="start" letter-spacing="1.1" class="t"><tspan class="h1">1</tspan>.30</text>
<text x="905.5" y="280.3" font-size="18.4" font-weight="normal" text-anchor="start" letter-spacing="1.1" class="t"><tspan class="h1">1</tspan>.20</text>
<text x="905.5" y="349.3" font-size="18.4" font-weight="normal" text-anchor="start" letter-spacing="1.1" class="t"><tspan class="h1">1</tspan>.<tspan class="h1">1</tspan>0</text>
<text x="905.5" y="418.3" font-size="18.4" font-weight="normal" text-anchor="start" letter-spacing="1.1" class="t"><tspan class="h1">1</tspan>.00</text>
<text x="905.5" y="487.3" font-size="18.4" font-weight="normal" text-anchor="start" letter-spacing="1.1" class="t">0.90</text>
<text x="905.5" y="556.3" font-size="18.4" font-weight="normal" text-anchor="start" letter-spacing="1.1" class="t">0.80</text>
<text x="334.2" y="26.9" font-size="21.5" font-weight="bold" text-anchor="start" textLength="262.5" lengthAdjust="spacingAndGlyphs" letter-spacing="0.5">Steam&#160;&#160;conversion&#160;&#160;(%)</text>
<text x="461.6" y="607.1" font-size="21.8" font-weight="bold" text-anchor="start" letter-spacing="0.9">i (A.cm<tspan font-size="13.5" dy="-6.3">-2</tspan><tspan dy="6.3">)</tspan></text>
<text transform="translate(978.1 396.2) rotate(-90)" font-size="23.5" font-weight="bold" textLength="108.3" lengthAdjust="spacingAndGlyphs">Voltage (V)</text>
<text x="536.7" y="171.9" font-size="22.0" font-weight="normal" text-anchor="start" textLength="269.2" lengthAdjust="spacingAndGlyphs" class="t2">Median voltage 25 cells <tspan class="h1">1</tspan>00cm²</text>
<text x="536.7" y="216.5" font-size="22.0" font-weight="normal" text-anchor="start" textLength="275.2" lengthAdjust="spacingAndGlyphs" class="t2">Median voltage 25 cells <tspan class="h1">1</tspan>96 cm²</text>
<text x="536.7" y="260.6" font-size="22.0" font-weight="normal" text-anchor="start" textLength="223.2" lengthAdjust="spacingAndGlyphs" class="t2">Umedian <tspan class="h1">1</tspan>00 cm² - <tspan class="h1">1</tspan>0 mV</text>
<text x="536.7" y="304.9" font-size="22.0" font-weight="normal" text-anchor="start" textLength="222.8" lengthAdjust="spacingAndGlyphs" class="t2">Umedian <tspan class="h1">1</tspan>00cm² + <tspan class="h1">1</tspan>0 mV</text>
<text x="66.4" y="634.7" font-size="17.2" font-weight="normal" text-anchor="start" textLength="879.0" lengthAdjust="spacingAndGlyphs" fill="#111">Figure : i-V curve of a 25-cell stack made of 196 cm<tspan dy="-1.6">²</tspan><tspan dy="1.6"> (25-200) compared to a 25-cell stack made of 100 cm</tspan><tspan dy="-1.6">²</tspan><tspan dy="1.6"> (25-100).</tspan></text>
<text x="33.0" y="658.7" font-size="17.2" font-weight="normal" text-anchor="start" textLength="945.5" lengthAdjust="spacingAndGlyphs" fill="#111">Representation of the median voltage as function of current density, at 800°C, for a 90%H2O/10%H2 inlet gas mixture at flow</text>
<text x="271.6" y="682.6" font-size="17.2" font-weight="normal" text-anchor="start" textLength="467.6" lengthAdjust="spacingAndGlyphs" fill="#111">rate 12 NmL/min/cm<tspan dy="-1.6">²</tspan><tspan dy="1.6"> in fuel side, with air fed on oxygen side.</tspan></text>
<path class="o1t" transform="translate(25.25 51.00) scale(0.00899 -0.00898)" d="M763 0L583 0L583 1098Q518 1039 412.5 979.6Q307 920 223 890L223 1057Q374 1125 487 1222Q600 1318 647 1409L763 1409Z"/>
<path class="o1t" transform="translate(770.46 51.00) scale(0.00899 -0.00898)" d="M763 0L583 0L583 1098Q518 1039 412.5 979.6Q307 920 223 890L223 1057Q374 1125 487 1222Q600 1318 647 1409L763 1409Z"/>
<rect x="19.28" y="571.70" width="6.1" height="2.2"/>
<path class="o1t" transform="translate(26.01 577.70) scale(0.00899 -0.00898)" d="M763 0L583 0L583 1098Q518 1039 412.5 979.6Q307 920 223 890L223 1057Q374 1125 487 1222Q600 1318 647 1409L763 1409Z"/>
<rect x="124.88" y="571.70" width="6.1" height="2.2"/>
<path class="o1t" transform="translate(131.61 577.70) scale(0.00899 -0.00898)" d="M763 0L583 0L583 1098Q518 1039 412.5 979.6Q307 920 223 890L223 1057Q374 1125 487 1222Q600 1318 647 1409L763 1409Z"/>
<rect x="230.38" y="571.70" width="6.1" height="2.2"/>
<path class="o1t" transform="translate(237.11 577.70) scale(0.00899 -0.00898)" d="M763 0L583 0L583 1098Q518 1039 412.5 979.6Q307 920 223 890L223 1057Q374 1125 487 1222Q600 1318 647 1409L763 1409Z"/>
<rect x="335.98" y="571.70" width="6.1" height="2.2"/>
<path class="o1t" transform="translate(342.71 577.70) scale(0.00899 -0.00898)" d="M763 0L583 0L583 1098Q518 1039 412.5 979.6Q307 920 223 890L223 1057Q374 1125 487 1222Q600 1318 647 1409L763 1409Z"/>
<rect x="441.59" y="571.70" width="6.1" height="2.2"/>
<rect x="547.19" y="571.70" width="6.1" height="2.2"/>
<rect x="652.69" y="571.70" width="6.1" height="2.2"/>
<rect x="758.29" y="571.70" width="6.1" height="2.2"/>
<path class="o1t" transform="translate(905.50 73.30) scale(0.00898 -0.00898)" d="M763 0L583 0L583 1098Q518 1039 412.5 979.6Q307 920 223 890L223 1057Q374 1125 487 1222Q600 1318 647 1409L763 1409Z"/>
<path class="o1t" transform="translate(905.50 142.30) scale(0.00898 -0.00898)" d="M763 0L583 0L583 1098Q518 1039 412.5 979.6Q307 920 223 890L223 1057Q374 1125 487 1222Q600 1318 647 1409L763 1409Z"/>
<path class="o1t" transform="translate(905.50 211.30) scale(0.00898 -0.00898)" d="M763 0L583 0L583 1098Q518 1039 412.5 979.6Q307 920 223 890L223 1057Q374 1125 487 1222Q600 1318 647 1409L763 1409Z"/>
<path class="o1t" transform="translate(905.50 280.30) scale(0.00898 -0.00898)" d="M763 0L583 0L583 1098Q518 1039 412.5 979.6Q307 920 223 890L223 1057Q374 1125 487 1222Q600 1318 647 1409L763 1409Z"/>
<path class="o1t" transform="translate(905.50 349.30) scale(0.00898 -0.00898)" d="M763 0L583 0L583 1098Q518 1039 412.5 979.6Q307 920 223 890L223 1057Q374 1125 487 1222Q600 1318 647 1409L763 1409Z"/>
<path class="o1t" transform="translate(923.05 349.30) scale(0.00898 -0.00898)" d="M763 0L583 0L583 1098Q518 1039 412.5 979.6Q307 920 223 890L223 1057Q374 1125 487 1222Q600 1318 647 1409L763 1409Z"/>
<path class="o1t" transform="translate(905.50 418.30) scale(0.00898 -0.00898)" d="M763 0L583 0L583 1098Q518 1039 412.5 979.6Q307 920 223 890L223 1057Q374 1125 487 1222Q600 1318 647 1409L763 1409Z"/>
<path class="o1l" transform="translate(742.06 171.90) scale(0.00936 -0.01074)" d="M763 0L583 0L583 1098Q518 1039 412.5 979.6Q307 920 223 890L223 1057Q374 1125 487 1222Q600 1318 647 1409L763 1409Z"/>
<path class="o1l" transform="translate(742.56 216.50) scale(0.00938 -0.01074)" d="M763 0L583 0L583 1098Q518 1039 412.5 979.6Q307 920 223 890L223 1057Q374 1125 487 1222Q600 1318 647 1409L763 1409Z"/>
<path class="o1l" transform="translate(618.53 260.60) scale(0.00935 -0.01074)" d="M763 0L583 0L583 1098Q518 1039 412.5 979.6Q307 920 223 890L223 1057Q374 1125 487 1222Q600 1318 647 1409L763 1409Z"/>
<path class="o1l" transform="translate(704.62 260.60) scale(0.00935 -0.01074)" d="M763 0L583 0L583 1098Q518 1039 412.5 979.6Q307 920 223 890L223 1057Q374 1125 487 1222Q600 1318 647 1409L763 1409Z"/>
<path class="o1l" transform="translate(618.58 304.90) scale(0.00935 -0.01074)" d="M763 0L583 0L583 1098Q518 1039 412.5 979.6Q307 920 223 890L223 1057Q374 1125 487 1222Q600 1318 647 1409L763 1409Z"/>
<path class="o1l" transform="translate(704.19 304.90) scale(0.00935 -0.01074)" d="M763 0L583 0L583 1098Q518 1039 412.5 979.6Q307 920 223 890L223 1057Q374 1125 487 1222Q600 1318 647 1409L763 1409Z"/>
<clipPath id="lc"><rect x="469" y="144.5" width="354.6" height="175"/></clipPath><g clip-path="url(#lc)"><line x1="148.4" y1="68" x2="148.4" y2="549" class="g"/><line x1="253.9" y1="68" x2="253.9" y2="549" class="g"/><line x1="359.5" y1="68" x2="359.5" y2="549" class="g"/><line x1="465.1" y1="68" x2="465.1" y2="549" class="g"/><line x1="570.7" y1="68" x2="570.7" y2="549" class="g"/><line x1="676.2" y1="68" x2="676.2" y2="549" class="g"/><line x1="781.8" y1="68" x2="781.8" y2="549" class="g"/><line x1="44" y1="136.2" x2="886" y2="136.2" class="g"/><line x1="44" y1="205.2" x2="886" y2="205.2" class="g"/><line x1="44" y1="274.2" x2="886" y2="274.2" class="g"/><line x1="44" y1="343.2" x2="886" y2="343.2" class="g"/><line x1="44" y1="412.2" x2="886" y2="412.2" class="g"/><line x1="44" y1="481.2" x2="886" y2="481.2" class="g"/></g>
</svg>
</body></html>
